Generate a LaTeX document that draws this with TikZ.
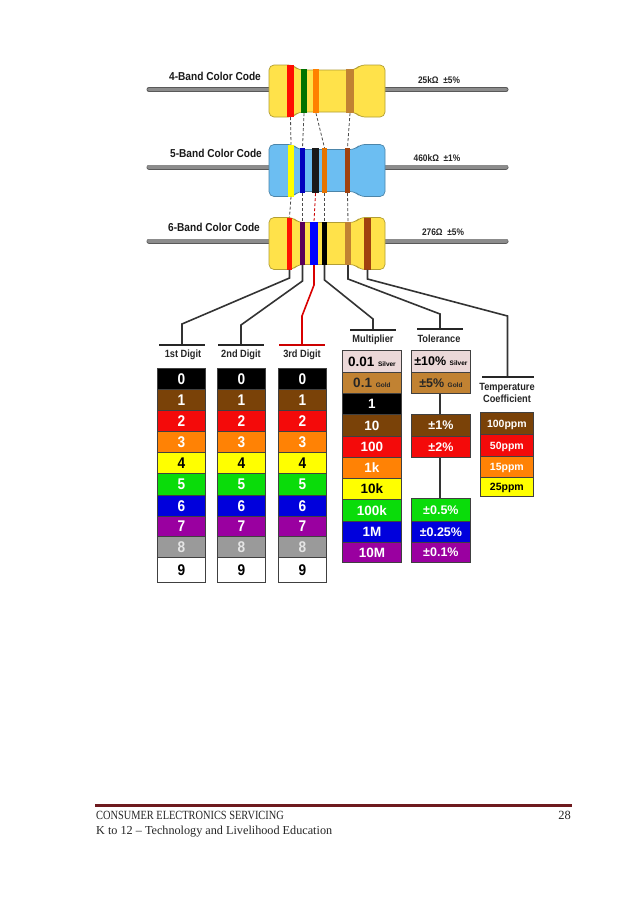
\documentclass[tikz,border=0pt]{standalone}
\usepackage{fontspec}
\setmainfont{Liberation Sans}
\newfontfamily\narrowfont[FakeStretch=0.88]{Liberation Sans}
\newfontfamily\footfont{Liberation Serif}
\newfontfamily\footcaps[FakeStretch=0.83]{Liberation Serif}
\definecolor{cblack}{HTML}{000000}
\definecolor{cbrown}{HTML}{7A4208}
\definecolor{cred}{HTML}{F40A0A}
\definecolor{corange}{HTML}{FF8205}
\definecolor{cyellow}{HTML}{FFFF00}
\definecolor{cgreen}{HTML}{0ADC0A}
\definecolor{cblue}{HTML}{0000DC}
\definecolor{cpurple}{HTML}{9A00A0}
\definecolor{cgray}{HTML}{9A9A9A}
\definecolor{cwhite}{HTML}{FFFFFF}
\definecolor{csilver}{HTML}{EBD8D8}
\definecolor{cgold}{HTML}{C18232}
\definecolor{bodyyellow}{HTML}{FFE24A}
\definecolor{bodyblue}{HTML}{6CBEF2}
\definecolor{bandbrown}{HTML}{A0420F}
\definecolor{footred}{HTML}{6E1A1E}
\tikzset{
  cell/.style={draw=black!75, line width=0.8, inner sep=0, anchor=north west, text depth=0pt, font=\bfseries},
  band/.style={inner sep=0, draw=none},
  bar/.style={fill=black!85, inner sep=0, minimum height=1.8, minimum width=46},
  wire/.style={line width=1.6, black!80},
  link/.style={densely dashed, line width=0.8, black!70},
  title/.style={font=\narrowfont\bfseries\fontsize{11.5}{13}\selectfont, black!90},
  value/.style={font=\narrowfont\bfseries\fontsize{9.5}{11}\selectfont, black!85},
  head/.style={font=\narrowfont\bfseries\fontsize{10.5}{12.5}\selectfont, black!85, align=center},
  lead/.style={draw=black!65, double=black!45, double distance=3.6, line width=0.7, line cap=round},
}
\newcommand{\resbody}[3]{
  \draw[lead] (149,#1) -- (270,#1);
  \draw[lead] (384,#1) -- (506,#1);
  \draw[rounded corners=5, draw=#3!70!black, fill=#3, line width=0.7]
    (269,#2-26) -- (293,#2-26) -- (298,#2-21) -- (355,#2-21) -- (360,#2-26) -- (385,#2-26)
    -- (385,#2+26) -- (360,#2+26) -- (355,#2+21) -- (298,#2+21) -- (293,#2+26) -- (269,#2+26) -- cycle;
}
\begin{document}
\begin{tikzpicture}[x=1pt,y=-1pt]
  \useasboundingbox[fill=white] (0,0) rectangle (638,902);

  % resistors
  \resbody{89.5}{91}{bodyyellow}
  \resbody{167}{170.5}{bodyblue}
  \resbody{241}{243.5}{bodyyellow}

  \node[band, fill=red!90!orange, minimum width=7, minimum height=52] (fourA) at (290.5,91) {};
  \node[band, fill=green!45!black, minimum width=6, minimum height=44] (fourB) at (304,91) {};
  \node[band, fill=orange, minimum width=6, minimum height=44] (fourC) at (316,91) {};
  \node[band, fill=cgold, minimum width=8, minimum height=44] (fourD) at (350,91) {};

  \node[band, fill=cyellow, minimum width=6, minimum height=52] (fiveA) at (291,170.5) {};
  \node[band, fill=blue!75!black, minimum width=5, minimum height=45] (fiveB) at (302.5,170.5) {};
  \node[band, fill=black!90, minimum width=7, minimum height=45] (fiveC) at (315.5,170.5) {};
  \node[band, fill=orange!90!black, minimum width=5, minimum height=45] (fiveD) at (324.5,170.5) {};
  \node[band, fill=bandbrown, minimum width=5, minimum height=45] (fiveE) at (347.5,170.5) {};

  \node[band, fill=red!85!orange, minimum width=5, minimum height=52] (sixA) at (289.5,243.5) {};
  \node[band, fill=violet!70!black, minimum width=5, minimum height=43] (sixB) at (302.5,243.5) {};
  \node[band, fill=blue, minimum width=8, minimum height=43] (sixC) at (314,243.5) {};
  \node[band, fill=black, minimum width=5, minimum height=43] (sixD) at (324.5,243.5) {};
  \node[band, fill=cgold, minimum width=6, minimum height=43] (sixE) at (348,243.5) {};
  \node[band, fill=bandbrown, minimum width=7, minimum height=52] (sixF) at (367.5,243.5) {};

  \draw[link] (fourA.south) -- (fiveA.north);
  \draw[link] (fourB.south) -- (fiveB.north);
  \draw[link] (fourC.south) -- (fiveD.north);
  \draw[link] (fourD.south) -- (fiveE.north);
  \draw[link] (fiveA.south) -- (sixA.north);
  \draw[link] (fiveB.south) -- (sixB.north);
  \draw[link, red!80!black] (fiveC.south) -- (sixC.north);
  \draw[link] (fiveD.south) -- (sixD.north);
  \draw[link] (fiveE.south) -- (sixE.north);

  \node[title] (titleFour) at (215,76) {4-Band Color Code};
  \node[title] (titleFive) at (216,153) {5-Band Color Code};
  \node[title] (titleSix) at (214,227) {6-Band Color Code};
  \node[value] (valueFour) at (439,80) {25kΩ\ \ ±5\%};
  \node[value] (valueFive) at (437,158) {460kΩ\ \ ±1\%};
  \node[value] (valueSix) at (443,232) {276Ω\ \ ±5\%};

  % heads
  \node[bar] (barFirst) at (182,345) {};
  \node[bar] (barSecond) at (241,345) {};
  \node[bar, fill=red!80!black] (barThird) at (302,345) {};
  \node[bar] (barMult) at (373,330) {};
  \node[bar] (barTol) at (440,329) {};
  \node[bar, minimum width=52] (barTemp) at (507.5,377) {};

  \draw[wire] (sixA.south) -- (289.5,278) -- (182,324) -- (barFirst.north);
  \draw[wire] (sixB.south) -- (302.5,281) -- (241,325) -- (barSecond.north);
  \draw[wire, red!85!black] (sixC.south) -- (314,285) -- (302,316) -- (barThird.north);
  \draw[wire] (sixD.south) -- (324.5,280) -- (373,319) -- (barMult.north);
  \draw[wire] (sixE.south) -- (348,279) -- (440,314) -- (barTol.north);
  \draw[wire] (sixF.south) -- (367.5,279) -- (507.5,316) -- (barTemp.north);

  \node[head] (headFirst) at (183,355) {1st Digit};
  \node[head] (headSecond) at (241,355) {2nd Digit};
  \node[head] (headThird) at (302,355) {3rd Digit};
  \node[head] (headMult) at (373,340) {Multiplier};
  \node[head] (headTol) at (439,339) {Tolerance};
  \node[head] (headTemp) at (507,393) {Temperature\\Coefficient};

  % digit columns
  \foreach \col/\cx in {first/157, second/217, third/278} {
    \foreach \d/\top/\high/\shade/\ink in {
      0/368/21/cblack/white, 1/389/21/cbrown/white, 2/410/21/cred/white,
      3/431/21/corange/white, 4/452/21/cyellow/black, 5/473/22/cgreen/white,
      6/495/21/cblue/white, 7/516/20/cpurple/white, 8/536/21/cgray/white!90!black,
      9/557/25/cwhite/black} {
      \node[cell, fill=\shade, text=\ink, minimum width=48, minimum height=\high,
        font=\narrowfont\bfseries\fontsize{15.5}{16}\selectfont] (\col\d) at (\cx,\top) {\d};
    }
  }

  % links behind the tolerance column
  \coordinate (tolGapA) at (440,393);
  \coordinate (tolGapB) at (440,414);
  \coordinate (tolGapC) at (440,457);
  \coordinate (tolGapD) at (440,498);
  \draw[wire] (tolGapA) -- (tolGapB);
  \draw[wire] (tolGapC) -- (tolGapD);

  % multiplier column
  \foreach \n/\top/\high/\shade/\ink/\txt in {
    a/350/22/csilver/black/{0.01 {\fontsize{6.5}{7}\selectfont Silver}},
    b/372/21/cgold/black!85/{0.1 {\fontsize{6.5}{7}\selectfont Gold}},
    c/393/21/cblack/white/1, d/414/22/cbrown/white/10, e/436/21/cred/white/100,
    f/457/21/corange/white/1k, g/478/21/cyellow/black/10k, h/499/22/cgreen/white/100k,
    i/521/21/cblue/white/1M, j/542/20/cpurple/white/10M} {
    \node[cell, fill=\shade, text=\ink, minimum width=59, minimum height=\high,
      font=\bfseries\fontsize{13.5}{14}\selectfont] (mult\n) at (342,\top) {\txt};
  }

  % tolerance column
  \foreach \n/\top/\high/\shade/\ink/\txt in {
    a/350/22/csilver/black/{±10\% {\fontsize{6.5}{7}\selectfont Silver}},
    b/372/21/cgold/black!85/{±5\% {\fontsize{6.5}{7}\selectfont Gold}},
    c/414/22/cbrown/white/±1\%, d/436/21/cred/white/±2\%,
    e/498/23/cgreen/white/±0.5\%, f/521/21/cblue/white/±0.25\%, g/542/20/cpurple/white/±0.1\%} {
    \node[cell, fill=\shade, text=\ink, minimum width=59, minimum height=\high,
      font=\bfseries\fontsize{12.5}{14}\selectfont] (tol\n) at (411,\top) {\txt};
  }

  % temperature column
  \foreach \n/\top/\high/\shade/\ink/\txt in {
    a/412/22/cbrown/white/100ppm, b/434/22/cred/white/50ppm,
    c/456/21/corange/white/15ppm, d/477/19/cyellow/black/25ppm} {
    \node[cell, fill=\shade, text=\ink, minimum width=53, minimum height=\high,
      font=\bfseries\fontsize{10.5}{12}\selectfont] (temp\n) at (480,\top) {\txt};
  }

  % footer
  \fill[footred] (95,803.5) rectangle (572,806.5);
  \node[anchor=base west, inner sep=0, font=\footcaps\fontsize{12.5}{14}\selectfont, black!85] (footA) at (96,819) {CONSUMER ELECTRONICS SERVICING};
  \node[anchor=base west, inner sep=0, font=\footfont\fontsize{12.2}{14}\selectfont, black!85] (footB) at (96,834) {K to 12 – Technology and Livelihood Education};
  \node[anchor=base east, inner sep=0, font=\footfont\fontsize{12.5}{14}\selectfont, black!85] (footPage) at (571,819) {28};
\end{tikzpicture}
\end{document}
